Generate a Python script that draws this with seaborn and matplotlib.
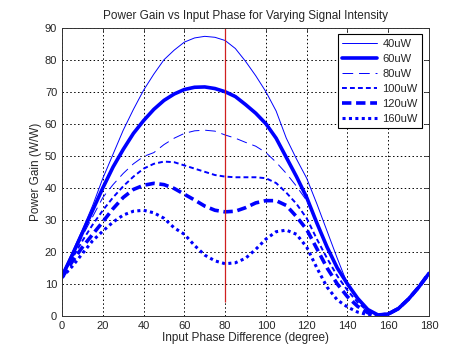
import numpy as np
import pandas as pd
import seaborn as sns
from matplotlib import pyplot as plt

# phase difference, degrees (step 5)
phase = list(range(0, 181, 5))

gain_40uw = [13, 20, 27, 34.5, 43, 50.5, 58, 64.5, 70.5, 75.5, 80, 83, 85.5, 86.8, 87.3, 87, 86,
             83.5, 79.5, 75, 70, 64, 55.5, 49, 43, 35, 26.5, 18, 10, 5, 1.8, 0.2, 0.6, 2.3, 5.3, 9, 13.3]
gain_60uw = [12.5, 19, 26, 33, 40, 46.5, 52, 57, 61, 64.5, 67.3, 69.3, 70.7, 71.4, 71.5, 71, 70,
             68.5, 66, 63.3, 60, 55.5, 49.5, 43.5, 37, 29, 21.5, 15, 10, 5.5, 2, 0.3, 0.6, 2.3, 5.3, 9, 13.3]
gain_80uw = [12.5, 18.5, 25, 31, 37, 41, 44.5, 47.5, 49.8, 51, 53.5, 55.5, 57, 57.8, 58, 57.7, 56.5,
             55.5, 54.2, 53, 51, 48, 44.5, 40.5, 36, 29, 21.5, 15, 9.5, 5, 1.8, 0.3, 0.6, 2.3, 5.3, 9, 13.3]
gain_100uw = [12.5, 18, 23.5, 28.5, 33, 37, 40.5, 43.5, 46, 47.5, 48.2, 48, 47, 46, 45, 44, 43.5,
              43.3, 43.3, 43.3, 43, 41.5, 38.5, 35, 30.5, 24, 18, 12.5, 8, 4.2, 1.5, 0.3, 0.6, 2.3, 5.3, 9, 13.3]
gain_120uw = [12, 17, 21.5, 25.5, 29.4, 33.5, 37, 39.5, 40.8, 41.4, 41, 39.8, 38, 36.2, 34.3, 33, 32.5,
              32.7, 33.8, 35.3, 36, 36, 34.5, 31, 27, 21, 15, 10, 6, 3, 1, 0.2, 0.6, 2.3, 5.3, 9, 13.3]
gain_160uw = [12, 15.5, 19.5, 23.5, 26.5, 29.3, 31.5, 32.7, 33, 32.2, 30.5, 27.5, 25.5, 22, 19, 17.2, 16.3,
              16.6, 18, 20.8, 24, 26.3, 26.8, 25.5, 21.5, 15, 9, 5, 2.8, 1.2, 0.4, 0.2, 0.6, 2.3, 5.3, 9, 13.3]

labels = ["40uW", "60uW", "80uW", "100uW", "120uW", "160uW"]
series = [gain_40uw, gain_60uw, gain_80uw, gain_100uw, gain_120uw, gain_160uw]

# red marker line
marker_phase = 80
marker_low, marker_high = 4.5, 90

styles = {
    "40uW": dict(lw=0.7, ls="-"),
    "60uW": dict(lw=2.6, ls="-"),
    "80uW": dict(lw=0.7, ls=(0, (11, 6))),
    "100uW": dict(lw=1.4, ls=(0, (2.5, 1.6))),
    "120uW": dict(lw=2.6, ls=(0, (2.6, 1.3))),
    "160uW": dict(lw=2.2, ls=(0, (1, 1.1))),
}

df = pd.DataFrame({"phase": phase * len(labels),
                   "gain": np.concatenate(series),
                   "signal": np.repeat(labels, len(phase))})

sns.set_style("white")
plt.rcParams["font.family"] = ["Liberation Sans", "DejaVu Sans"]

fig = plt.figure(figsize=(4.74, 3.55), dpi=100)
ax = fig.add_axes([0.131, 0.110, 0.774, 0.812])

for lab in labels:
    sub = df[df.signal == lab]
    st = styles[lab]
    sns.lineplot(data=sub, x="phase", y="gain", ax=ax, color="#0000ff",
                 linewidth=st["lw"], linestyle=st["ls"], label=lab, estimator=None)

ax.vlines(marker_phase, marker_low, marker_high, color="#d02020", linewidth=0.9)

ax.set_xlim(0, 180)
ax.set_ylim(0, 90)
ax.set_xticks(range(0, 181, 20))
ax.set_yticks(range(0, 91, 10))
ax.grid(True, color="black", linestyle=(0, (1.5, 2.5)), linewidth=0.7)
ax.tick_params(direction="in", top=True, right=True, labelsize=8, length=3, width=0.6)
for sp in ax.spines.values():
    sp.set_color("#333333")
    sp.set_linewidth(0.7)

ax.set_title("Power Gain vs Input Phase for Varying Signal Intensity", fontsize=8.5, pad=6)
ax.set_xlabel("Input Phase Difference (degree)", fontsize=8.5, labelpad=1)
ax.set_ylabel("Power Gain (W/W)", fontsize=8.5, labelpad=2)

leg = ax.legend(loc="upper right", fontsize=8, handlelength=3.1, fancybox=False,
                framealpha=1, edgecolor="black", borderaxespad=0.6, labelspacing=0.45,
                handletextpad=0.5)
leg.get_frame().set_linewidth(0.8)

fig.savefig("out.png", dpi=100)
